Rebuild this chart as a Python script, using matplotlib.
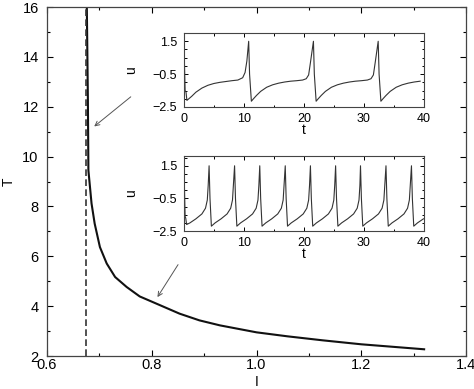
import numpy as np
import matplotlib.pyplot as plt
from matplotlib.ticker import MultipleLocator

plt.rcParams['font.family'] = ['Liberation Sans', 'DejaVu Sans']

# main curve: period T versus current I
I_vals = [0.676, 0.678, 0.679, 0.685, 0.691, 0.701, 0.714, 0.730, 0.752, 0.777,
          0.809, 0.853, 0.891, 0.93, 0.95, 1.0, 1.059, 1.126, 1.2, 1.26, 1.32]
T_vals = [16.0, 12.3, 9.45, 8.12, 7.31, 6.37, 5.71, 5.17, 4.77, 4.39,
          4.1, 3.70, 3.43, 3.23, 3.15, 2.95, 2.79, 2.63, 2.47, 2.37, 2.27]
I_crit = 0.674

# arrows (tail -> head) in data coords
arrow_tails = [(0.764, 12.47), (0.853, 5.76)]
arrow_heads = [(0.686, 11.14), (0.808, 4.27)]

# top inset: start of trace, spike times, one cycle after each spike
top_start_t = [0.0, 0.1, 0.2, 0.35, 0.5]
top_start_u = [1.3, 0.0, -1.5, -1.6, -2.1]
top_spikes = [10.8, 21.6, 32.4]
top_cyc_dt = [0.0, 0.15, 0.45, 0.8, 1.3, 2.0, 3.0, 4.0, 5.0, 6.0, 7.0, 8.0, 9.0, 9.6, 10.0, 10.3]
top_cyc_u = [1.5, -0.5, -2.15, -2.0, -1.8, -1.55, -1.3, -1.15, -1.05, -0.98, -0.93, -0.9, -0.86, -0.78, -0.55, 0.2]
# rise of first cycle (before first spike)
top_rise_t = [1.3, 2.0, 3.0, 4.0, 5.0, 6.0, 7.0, 8.0, 9.0, 9.8, 10.2, 10.5]
top_rise_u = [-1.85, -1.6, -1.35, -1.18, -1.07, -1.0, -0.95, -0.9, -0.86, -0.72, -0.4, 0.3]

# bottom inset
bot_start_t = [0.0, 0.1, 0.2, 0.3, 0.45]
bot_start_u = [1.3, 0.0, -1.6, -1.7, -2.1]
bot_spikes = [4.2, 8.45, 12.65, 16.9, 21.1, 25.3, 29.45, 33.7, 37.95]
bot_cyc_dt = [0.0, 0.15, 0.38, 1.0, 2.0, 3.0, 3.6, 3.9, 4.05]
bot_cyc_u = [1.5, -0.5, -2.2, -2.0, -1.75, -1.45, -1.1, -0.6, 0.3]
bot_rise_t = [1.0, 2.0, 3.0, 3.6, 3.9, 4.05]
bot_rise_u = [-2.0, -1.75, -1.45, -1.1, -0.6, 0.3]


def build_trace(start_t, start_u, rise_t, rise_u, spikes, cyc_dt, cyc_u, tmax=40.0):
    t = list(start_t) + list(rise_t)
    u = list(start_u) + list(rise_u)
    for s in spikes:
        for d, v in zip(cyc_dt, cyc_u):
            if s + d <= tmax:
                t.append(s + d)
                u.append(v)
    return t, u


fig = plt.figure(figsize=(4.74, 3.89), dpi=100)

ax = fig.add_axes([0.0992, 0.0848, 0.884, 0.897])
ax.plot(I_vals, T_vals, color='#111111', lw=1.5)
ax.axvline(I_crit, color='#333333', lw=1.2, dashes=(4, 2))
for (x0, y0), (x1, y1) in zip(arrow_tails, arrow_heads):
    ax.annotate('', xy=(x1, y1), xytext=(x0, y0),
                arrowprops=dict(arrowstyle='->', color='#555555', lw=0.7, mutation_scale=8))
ax.set_xlim(0.6, 1.4)
ax.set_ylim(2, 16)
ax.set_xticks([0.6, 0.8, 1.0, 1.2, 1.4])
ax.set_xticklabels(['0.6', '0.8', '1.0', '1.2', '1.4'])
ax.xaxis.set_minor_locator(MultipleLocator(0.1))
ax.yaxis.set_major_locator(MultipleLocator(2))
ax.yaxis.set_minor_locator(MultipleLocator(1))
ax.tick_params(which='both', direction='in', top=True, right=True, labelsize=10.5, width=0.8)
ax.tick_params(which='major', length=4)
ax.tick_params(which='minor', length=2.5)
ax.tick_params(axis='x', pad=1.5)
ax.tick_params(axis='y', pad=6)
ax.set_xlabel('I', fontsize=10, labelpad=2)
ax.set_ylabel('T', fontsize=10, labelpad=5)
for sp in ax.spines.values():
    sp.set_color('#444444')
    sp.set_linewidth(0.9)

insets = [
    ([0.388, 0.725, 0.506, 0.190], 2.0,
     build_trace(top_start_t, top_start_u, top_rise_t, top_rise_u, top_spikes, top_cyc_dt, top_cyc_u)),
    ([0.388, 0.406, 0.506, 0.193], 2.1,
     build_trace(bot_start_t, bot_start_u, bot_rise_t, bot_rise_u, bot_spikes, bot_cyc_dt, bot_cyc_u)),
]
for rect, ytop, (tt, uu) in insets:
    ia = fig.add_axes(rect)
    ia.plot(tt, uu, color='#333333', lw=0.8)
    ia.set_xlim(0, 40)
    ia.set_ylim(-2.5, ytop)
    ia.set_xticks([0, 10, 20, 30, 40])
    ia.xaxis.set_minor_locator(MultipleLocator(5))
    ia.set_yticks([-2.5, -0.5, 1.5])
    ia.set_yticklabels(['\u22122.5', '\u22120.5', '1.5'])
    ia.yaxis.set_minor_locator(MultipleLocator(0.5))
    ia.tick_params(which='both', direction='in', top=True, right=True, labelsize=9, width=0.7)
    ia.tick_params(axis='x', pad=4)
    ia.tick_params(axis='y', pad=5)
    ia.tick_params(which='major', length=3)
    ia.tick_params(which='minor', length=1.8)
    ia.set_xlabel('t', fontsize=10, labelpad=-1)
    ia.set_ylabel('u', fontsize=10, labelpad=10)
    for sp in ia.spines.values():
        sp.set_color('#444444')
        sp.set_linewidth(0.8)

fig.savefig('out.png', dpi=100)
